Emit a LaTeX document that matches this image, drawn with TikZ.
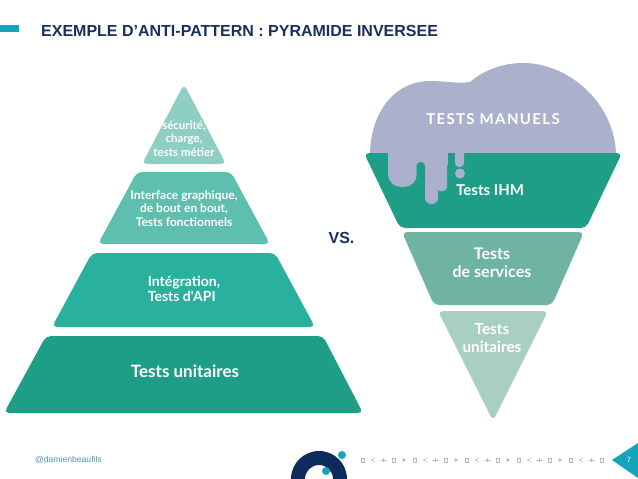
\documentclass[tikz,border=0pt]{standalone}
\usepackage{fontspec}
\setmainfont{Liberation Sans}
\newfontfamily\latofont{Lato}
\newfontfamily\latospaced[LetterSpace=9]{Lato}
\definecolor{navy}{HTML}{1B2F5B}
\definecolor{arcnavy}{HTML}{0F2A5C}
\definecolor{cyanbar}{HTML}{14A5BE}
\definecolor{lvlA}{HTML}{8FCFC3}
\definecolor{lvlB}{HTML}{5FBFAE}
\definecolor{lvlC}{HTML}{2AB19E}
\definecolor{lvlD}{HTML}{1F9E87}
\definecolor{lav}{HTML}{ABB1CD}
\definecolor{serv}{HTML}{6FB3A3}
\definecolor{cone}{HTML}{A9CFC4}
\definecolor{handle}{HTML}{4A9AA8}
\definecolor{gly}{HTML}{B5B8BD}
\tikzset{
  x=1pt,y=-1pt,
  block/.style={rounded corners=5pt},
  lab/.style={text=white,align=center,inner sep=0pt},
  glyph/.style={draw=gly,line width=.6pt},
}
\begin{document}
\begin{tikzpicture}
\useasboundingbox (0,0) rectangle (638,479);
% header
\fill[cyanbar] (0,25) rectangle (19,32);
\node[anchor=base west,inner sep=0pt,text=navy,font=\fontsize{16}{18}\selectfont\bfseries] (title) at (41,36) {EXEMPLE D’ANTI-PATTERN : PYRAMIDE INVERSEE};
% left pyramid
\fill[lvlA,block] (184,84) -- (226,164) -- (142,164) -- cycle;
\fill[lvlB,block] (137,172) -- (231,172) -- (270,244) -- (98,244) -- cycle;
\fill[lvlC,block] (92,253) -- (275,253) -- (315,327) -- (52,327) -- cycle;
\fill[lvlD,block] (46,336) -- (323,336) -- (363,413) -- (4,413) -- cycle;
\node[lab,font=\fontsize{11.5}{13.3}\selectfont\latofont\bfseries] (a) at (184,138.5) {sécurité,\\charge,\\tests métier};
\node[lab,font=\fontsize{12}{13.5}\selectfont\latofont\bfseries] (b) at (184,208.5) {Interface graphique,\\de bout en bout,\\Tests fonctionnels};
\node[lab,font=\fontsize{14}{15}\selectfont\latofont\bfseries,align=left] (c) at (184,288.5) {Intégration,\\Tests d'API};
\node[lab,font=\fontsize{17}{19}\selectfont\latofont\bfseries] (d) at (185,371) {Tests unitaires};
\node[inner sep=0pt,text=navy,font=\fontsize{16}{18}\selectfont\bfseries] (vs) at (341.5,238) {VS.};
% cloud
\fill[lav] (370,156) .. controls (370,112) and (395,81) .. (430,81)
  .. controls (445,81) and (458,84) .. (470,82)
  .. controls (484,70) and (503,63) .. (523,63)
  .. controls (570,63) and (616,105) .. (616,156) -- cycle;
% bowl
\fill[lvlD,block] (364,153) -- (622,153) -- (586,228) -- (400,228) -- cycle;
% drips
\fill[lav,rounded corners=13pt] (388,130) -- (388,187) -- (417,187) -- (417,130) -- cycle;
\fill[lav] (388,150) rectangle (448,165);
\fill[lav,rounded corners=6pt] (425,155) -- (425,204) -- (438,204) -- (438,155) -- cycle;
\fill[lav,rounded corners=4pt] (436,155) -- (436,191) -- (447,191) -- (447,155) -- cycle;
\fill[lvlD,rounded corners=4pt] (416.5,190) -- (416.5,162) -- (425,162) -- (425,190) -- cycle;
\fill[lav,rounded corners=4pt] (455,145) -- (455,167) -- (464,167) -- (464,145) -- cycle;
\fill[lav] (460,173.5) circle (5);
% lower blocks
\fill[serv,block] (402,232) -- (584,232) -- (552,305) -- (434,305) -- cycle;
\fill[cone,block] (438,311) -- (548,311) -- (493,421) -- cycle;
\node[lab,font=\fontsize{15}{16}\selectfont\latospaced\bfseries] (man) at (493,119) {TESTS MANUELS};
\node[lab,anchor=west,font=\fontsize{15}{16}\selectfont\latofont\bfseries] (ihm) at (456,190) {Tests IHM};
\node[lab,font=\fontsize{16}{18}\selectfont\latofont\bfseries] (srv) at (492,263) {Tests\\de services};
\node[lab,font=\fontsize{15.3}{18}\selectfont\latofont\bfseries] (uni) at (492,338) {Tests\\unitaires};
% footer
\node[anchor=west,inner sep=0pt,text=handle,font=\fontsize{8.6}{10}\selectfont] (h) at (35,460) {@damienbeaufils};
\fill[arcnavy] (291,479) arc[start angle=180,end angle=360,radius=28] -- (333,479) arc[start angle=360,end angle=180,radius=14] -- cycle;
\fill[cyanbar] (342,455) circle (4);
\fill[cyanbar] (326,471) circle (4);
\foreach \i in {0,...,23}{
  \pgfmathsetmacro{\xx}{362.7+10.4*\i}
  \pgfmathtruncatemacro{\k}{mod(\i,5)}
  \begin{scope}[shift={(\xx,460)}]
  \ifcase\k
    \draw[glyph] (-1.8,-1.8) rectangle (1.8,1.8);
  \or
    \draw[glyph] (1.8,-1.8) -- (-1.8,0) -- (1.8,1.8);
  \or
    \draw[glyph,line width=.9pt] (-2.2,0) -- (2.2,0) (0,-2.2) -- (0,2.2);
  \or
    \draw[glyph] (-1.8,-1.8) rectangle (1.8,1.8);
  \or
    \fill[gly] (-1.8,-2) -- (2,0) -- (-1.8,2) -- cycle;
  \fi
  \end{scope}
}
\fill[cyanbar] (612,460) -- (638,443) -- (638,478) -- cycle;
\node[inner sep=0pt,text=white,font=\fontsize{7.5}{9}\selectfont] (n) at (629,460) {7};
\end{tikzpicture}
\end{document}
